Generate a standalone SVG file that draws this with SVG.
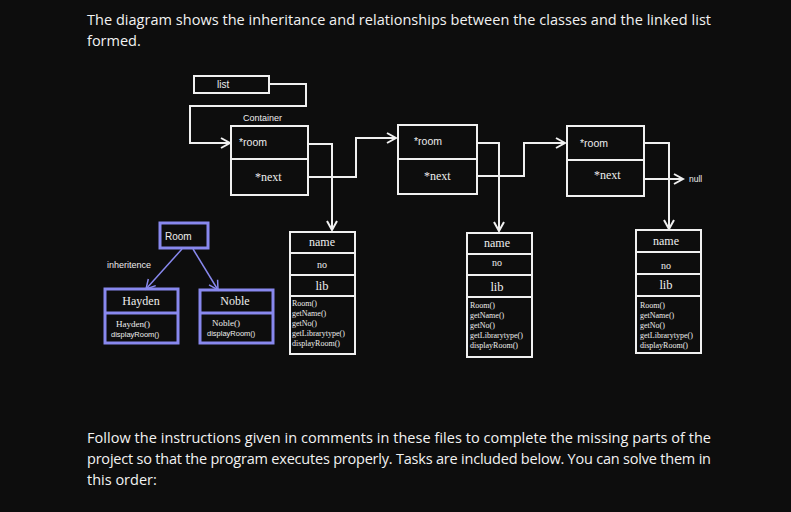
<svg xmlns="http://www.w3.org/2000/svg" width="791" height="512" viewBox="0 0 791 512">
<defs>
<style>
.p{font-family:"Open Sans","Noto Sans",sans-serif;font-size:14.5px;fill:#f2f2f2}
.s{font-family:"Liberation Sans",Arial,sans-serif;fill:#eee}
.t{font-family:"Liberation Serif","Times New Roman",serif;fill:#eee}
.w{fill:none;stroke:#f0f0f0;stroke-width:2}
.u{fill:none;stroke:#8888ee;stroke-width:3}
.c{fill:none;stroke:#f0f0f0;stroke-width:2}
.cu{fill:none;stroke:#8888ee;stroke-width:1.5}
</style>
<marker id="a" markerWidth="12" markerHeight="12" refX="10" refY="6" orient="auto" markerUnits="userSpaceOnUse"><path d="M1,1 L10,6 L1,11" fill="none" stroke="#f0f0f0" stroke-width="2"/></marker>
<marker id="b" markerWidth="12" markerHeight="12" refX="10" refY="6" orient="auto" markerUnits="userSpaceOnUse"><path d="M1,1 L10,6 L1,11" fill="none" stroke="#8888ee" stroke-width="1.5"/></marker>
</defs>
<rect width="791" height="512" fill="#0d0d0d"/>
<text class="p" x="87" y="25" textLength="624" lengthAdjust="spacing">The diagram shows the inheritance and relationships between the classes and the linked list</text>
<text class="p" x="87" y="46">formed.</text>
<text class="p" x="87" y="443" textLength="624" lengthAdjust="spacing">Follow the instructions given in comments in these files to complete the missing parts of the</text>
<text class="p" x="87" y="464" textLength="624" lengthAdjust="spacing">project so that the program executes properly. Tasks are included below. You can solve them in</text>
<text class="p" x="87" y="485">this order:</text>

<g id="connectors">
<path class="c" d="M269,84 H306 V106 H190 V143 H230" marker-end="url(#a)"/>
<path class="c" d="M308,144 H332 V230" marker-end="url(#a)"/>
<path class="c" d="M308,177 H356 V138 H396" marker-end="url(#a)"/>
<path class="c" d="M477,143 H499 V231" marker-end="url(#a)"/>
<path class="c" d="M477,176 H524 V143 H565" marker-end="url(#a)"/>
<path class="c" d="M644,143 H669 V229" marker-end="url(#a)"/>
<path class="c" d="M644,179 H683" marker-end="url(#a)"/>
<path class="cu" d="M182,249 L146,289" marker-end="url(#b)"/>
<path class="cu" d="M193,249 L218,290" marker-end="url(#b)"/>
</g>

<g id="list"><rect class="w" x="194" y="76" width="75" height="17"/><text class="s" x="217" y="88" font-size="10">list</text></g>
<text class="s" x="243" y="121" font-size="9">Container</text>
<g id="container1"><rect class="w" x="231" y="126" width="77" height="69"/><line class="w" x1="231" y1="159" x2="308" y2="159"/>
<text class="s" x="239" y="146" font-size="10.5">*room</text><text class="t" x="255" y="181" font-size="12">*next</text></g>
<g id="container2"><rect class="w" x="398" y="125" width="79" height="69"/><line class="w" x1="398" y1="159" x2="477" y2="159"/>
<text class="s" x="414" y="145" font-size="10.5">*room</text><text class="t" x="424" y="180" font-size="12">*next</text></g>
<g id="container3"><rect class="w" x="567" y="126" width="77" height="70"/><line class="w" x1="567" y1="160" x2="644" y2="160"/>
<text class="s" x="580" y="147" font-size="10.5">*room</text><text class="t" x="594" y="179" font-size="12">*next</text></g>
<text class="s" x="689" y="182" font-size="8.5">null</text>

<g id="room1"><rect class="w" x="290" y="232" width="65" height="122"/>
<path class="w" d="M290,253H355M290,275H355M290,296H355"/>
<text class="t" x="322" y="246" font-size="12" text-anchor="middle">name</text>
<text class="t" x="322" y="268" font-size="10" text-anchor="middle">no</text>
<text class="t" x="322" y="290" font-size="12.5" text-anchor="middle">lib</text>
<text class="t" x="292" y="306" font-size="8">Room()</text><text class="t" x="292" y="316" font-size="8">getName()</text><text class="t" x="292" y="326" font-size="8">getNo()</text><text class="t" x="292" y="336" font-size="8">getLibrarytype()</text><text class="t" x="292" y="346" font-size="8">displayRoom()</text></g>
<g id="room2"><rect class="w" x="467" y="233" width="65" height="124"/>
<path class="w" d="M467,254H532M467,275H532M467,297H532"/>
<text class="t" x="497" y="247" font-size="12" text-anchor="middle">name</text>
<text class="t" x="497" y="266" font-size="10" text-anchor="middle">no</text>
<text class="t" x="497" y="291" font-size="12.5" text-anchor="middle">lib</text>
<text class="t" x="470" y="308" font-size="8">Room()</text><text class="t" x="470" y="318" font-size="8">getName()</text><text class="t" x="470" y="328" font-size="8">getNo()</text><text class="t" x="470" y="338" font-size="8">getLibrarytype()</text><text class="t" x="470" y="348" font-size="8">displayRoom()</text></g>
<g id="room3"><rect class="w" x="636" y="230" width="65" height="123"/>
<path class="w" d="M636,252H701M636,274H701M636,296H701"/>
<text class="t" x="666" y="245" font-size="12" text-anchor="middle">name</text>
<text class="t" x="666" y="269" font-size="10" text-anchor="middle">no</text>
<text class="t" x="666" y="289" font-size="12.5" text-anchor="middle">lib</text>
<text class="t" x="640" y="308" font-size="8">Room()</text><text class="t" x="640" y="318" font-size="8">getName()</text><text class="t" x="640" y="328" font-size="8">getNo()</text><text class="t" x="640" y="338" font-size="8">getLibrarytype()</text><text class="t" x="640" y="348" font-size="8">displayRoom()</text></g>

<g id="Room"><rect class="u" x="160" y="223" width="48" height="25"/><text class="s" x="165" y="240" font-size="10">Room</text></g>
<text class="s" x="107" y="268" font-size="9">inheritence</text>
<g id="Hayden"><rect class="u" x="105" y="289" width="73" height="54"/><line class="u" x1="105" y1="313" x2="178" y2="313"/>
<text class="t" x="141" y="305" font-size="12" text-anchor="middle">Hayden</text>
<text class="t" x="116" y="327" font-size="9">Hayden()</text><text class="s" x="111" y="337" font-size="7.5">displayRoom()</text></g>
<g id="Noble"><rect class="u" x="200" y="290" width="73" height="53"/><line class="u" x1="200" y1="313" x2="273" y2="313"/>
<text class="t" x="235" y="305" font-size="12" text-anchor="middle">Noble</text>
<text class="t" x="212" y="326" font-size="9">Noble()</text><text class="s" x="207" y="336" font-size="7.5">displayRoom()</text></g>
</svg>
